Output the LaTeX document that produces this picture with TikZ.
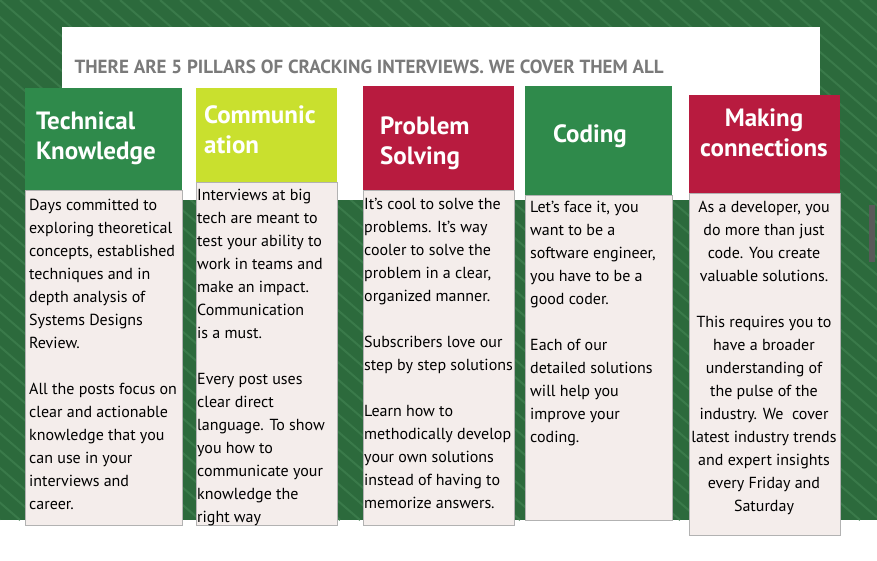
\documentclass[tikz,border=0pt]{standalone}
\usepackage{fontspec}
\setmainfont{PT Sans}
\definecolor{bg}{HTML}{2C6A3C}
\definecolor{bgl}{HTML}{3A7A4A}
\definecolor{hgreen}{HTML}{2F8A4B}
\definecolor{hlime}{HTML}{C9E02E}
\definecolor{hred}{HTML}{B81B3F}
\definecolor{body}{HTML}{F4EDEB}
\definecolor{ttl}{HTML}{7A7A7A}
\tikzset{
 head/.style={text=white,font=\fontsize{25}{30}\selectfont\bfseries,inner sep=0pt},
 bodytxt/.style={anchor=north west,font=\fontsize{16}{23}\selectfont,inner sep=0pt,align=left,text=black},
 bodybox/.style={fill=body,draw=gray!60,line width=0.6pt},
}
\begin{document}
\begin{tikzpicture}[x=1pt,y=-1pt]
\useasboundingbox (0,0) rectangle (877,561);
\fill[white] (0,0) rectangle (877,561);
\begin{scope}
\clip (0,0) rectangle (877,520);
\fill[bg] (0,0) rectangle (877,520);
\foreach \i in {-600,-580,...,900} \draw[bgl,line width=2pt] (\i,0) -- (\i+600,520);
\end{scope}
\fill[white] (62,27) rectangle (820,200);
\fill[gray!70!black] (869,205) rectangle (875,262);
\node[anchor=west,text=ttl,font=\fontsize{19}{22}\selectfont\bfseries] (title) at (71,67) {THERE ARE 5 PILLARS OF CRACKING INTERVIEWS. WE COVER THEM ALL};
% column 1
\fill[hgreen] (25,88) rectangle (182,190);
\draw[bodybox] (25,190) rectangle (182,525);
\node[head,anchor=west,align=left] (h1) at (36,138) {Technical\\Knowledge};
\node[bodytxt] (b1) at (29,199) {Days committed to\\exploring theoretical\\concepts, established\\techniques and in\\depth analysis of\\Systems Designs\\Review.\\[23pt]All the posts focus on\\clear and actionable\\knowledge that you\\can use in your\\interviews and\\career.};
% column 2
\fill[hlime] (196,88) rectangle (337,182);
\draw[bodybox] (196,182) rectangle (337,525);
\node[head,anchor=west,align=left] (h2) at (204,130) {Communic\\ation};
\node[bodytxt] (b2) at (197,189) {Interviews at big\\tech are meant to\\test your ability to\\work in teams and\\make an impact.\\Communication\\is a must.\\[23pt]Every post uses\\clear direct\\language. To show\\you how to\\communicate your\\knowledge the\\right way};
% column 3
\fill[hred] (363,86) rectangle (514,190);
\draw[bodybox] (363,190) rectangle (514,525);
\node[head,anchor=west,align=left] (h3) at (380,143) {Problem\\Solving};
\node[bodytxt] (b3) at (364,198) {It’s cool to solve the\\problems. It’s way\\cooler to solve the\\problem in a clear,\\organized manner.\\[23pt]Subscribers love our\\step by step solutions\\[23pt]Learn how to\\methodically develop\\your own solutions\\instead of having to\\memorize answers.};
% column 4
\fill[hgreen] (525,86) rectangle (672,195);
\draw[bodybox] (525,195) rectangle (672,520);
\node[head] (h4) at (590,136) {Coding};
\node[bodytxt] (b4) at (530,201) {Let’s face it, you\\want to be a\\software engineer,\\you have to be a\\good coder.\\[23pt]Each of our\\detailed solutions\\will help you\\improve your\\coding.};
% column 5
\fill[hred] (689,95) rectangle (840,193);
\draw[bodybox] (689,193) rectangle (840,535);
\node[head,align=center] (h5) at (764,133) {Making\\connections};
\node[bodytxt,anchor=north,align=center] (b5) at (764,201) {As a developer, you\\do more than just\\code. You create\\valuable solutions.\\[23pt]This requires you to\\have a broader\\understanding of\\the pulse of the\\industry. We\ \ cover\\latest industry trends\\and expert insights\\every Friday and\\Saturday};
\end{tikzpicture}
\end{document}
